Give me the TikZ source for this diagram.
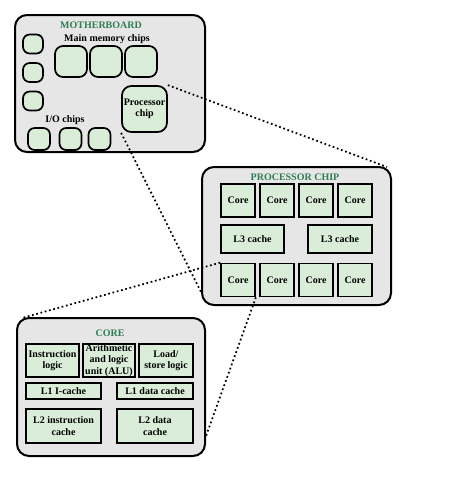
\documentclass[tikz,border=0pt]{standalone}
\usepackage{fontspec}
\setmainfont{Liberation Serif}
\usepackage{tikz}
\usetikzlibrary{calc}

\definecolor{boardgray}{HTML}{E6E6E6}
\definecolor{chipgreen}{HTML}{D9EDD8}
\definecolor{titlegreen}{HTML}{2E7D55}

\newdimen\pu \pu=0.75pt % ein Pixel

\begin{document}
\begin{tikzpicture}[
        x=\pu, y=-\pu,
        font=\fontsize{7.5}{8.5}\selectfont\bfseries,
        board/.style={draw, line width=1.5pt, fill=boardgray, rounded corners=9pt,
                      inner sep=0pt},
        chip/.style={draw, line width=1.3pt, fill=chipgreen, rounded corners=5pt,
                     inner sep=0pt, align=center},
        unit/.style={draw, line width=1.3pt, fill=chipgreen, inner sep=0pt, align=center},
        title/.style={text=titlegreen},
        link/.style={dotted, line width=1.3pt}
        ]
            \useasboundingbox (0,0) rectangle (474,479);

            % Hauptplatine
            \node[board, minimum width=190\pu, minimum height=137\pu] (MB) at (110,83.5) {};
            \node[title] (MBt) at (101,25) {MOTHERBOARD};
            \node (MBm) at (107,39) {Main memory chips};
            \node (MBio) at (65,120) {I/O chips};
            \foreach \y [count=\i] in {44,72.5,101}
                \node[chip, minimum width=20\pu, minimum height=19\pu] (L-\i) at (33,\y) {};
            \foreach \x [count=\i] in {71,106,141}
                \node[chip, rounded corners=6pt, minimum width=32\pu, minimum height=31\pu] (M-\i) at (\x,61.5) {};
            \foreach \x [count=\i] in {39,70.5,99.5}
                \node[chip, minimum width=22\pu, minimum height=22\pu] (IO-\i) at (\x,139) {};
            \node[chip, rounded corners=7pt, minimum width=45\pu, minimum height=46\pu] (P) at (144.5,109) {Processor\\chip};

            % Prozessor
            \node[board, minimum width=189\pu, minimum height=138\pu] (PC) at (296.5,236) {};
            \node[title] (PCt) at (295,177) {PROCESSOR CHIP};
            \foreach \x [count=\i] in {238,277,316,355} {
                \node[unit, minimum width=34\pu, minimum height=33\pu] (T-\i) at (\x,200.5) {Core};
                \node[unit, minimum width=34\pu, minimum height=33\pu] (B-\i) at (\x,280) {Core};
            }
            \node[unit, minimum width=63\pu, minimum height=28\pu] (L3-1) at (252.5,239) {L3 cache};
            \node[unit, minimum width=64\pu, minimum height=28\pu] (L3-2) at (340,239) {L3 cache};

            % Kern
            \node[board, minimum width=188\pu, minimum height=138\pu] (C) at (111,387) {};
            \node[title] (Ct) at (110,333) {CORE};
            \node[unit, minimum width=53\pu, minimum height=33\pu] (IL) at (52.5,360.5) {Instruction\\logic};
            \node[unit, minimum width=52\pu, minimum height=33\pu] (ALU) at (109,360.5) {Arithmetic\\and logic\\unit (ALU)};
            \node[unit, minimum width=54\pu, minimum height=33\pu] (LS) at (166,360.5) {Load/\\store logic};
            \node[unit, minimum width=75\pu, minimum height=16\pu] (L1I) at (63.5,391) {L1 I-cache};
            \node[unit, minimum width=76\pu, minimum height=16\pu] (L1D) at (155,391) {L1 data cache};
            \node[unit, minimum width=75\pu, minimum height=34\pu] (L2I) at (63.5,426) {L2 instruction\\cache};
            \node[unit, minimum width=76\pu, minimum height=34\pu] (L2D) at (155,426) {L2 data\\cache};

            % Vergroesserung
            \draw[link] (P.north east) -- ($(PC.north east)+(-5,1)$);
            \draw[link] (P.south west) -- ($(PC.south west)!0.1!(PC.north west)$);
            \draw[link] (B-1.north west) -- ($(C.north west)+(6,1)$);
            \draw[link] (B-1.south east) -- ($(C.south east)!0.15!(C.north east)$);

        \end{tikzpicture}
\end{document}
